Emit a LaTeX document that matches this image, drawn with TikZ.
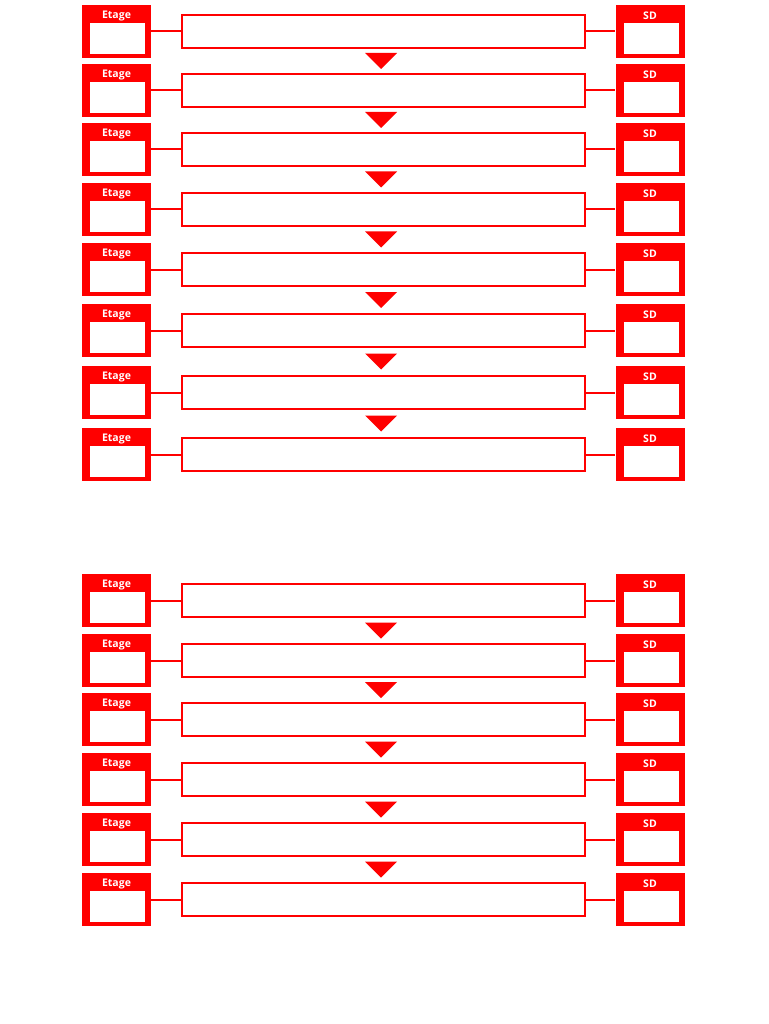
\documentclass[tikz,border=0pt]{standalone}
\usepackage{fontspec}
\newfontfamily\labfont{Open Sans}
\usetikzlibrary{calc}
\definecolor{boxred}{RGB}{255,0,0}
\begin{document}
\begin{tikzpicture}[x=1pt,y=-1pt,
 outerbox/.style={rectangle, fill=boxred, minimum width=69pt, minimum height=53pt, inner sep=0pt},
 innerbox/.style={rectangle, fill=white, minimum width=55pt, minimum height=31pt, inner sep=0pt},
 boxlabel/.style={text=white, font=\labfont\bfseries\fontsize{10.5}{10.5}\selectfont, inner sep=0pt},
 stagebox/.style={rectangle, draw=boxred, line width=2.2pt, fill=white, minimum width=403pt, minimum height=33pt, inner sep=0pt},
 link/.style={draw=boxred, line width=2pt},
 arrowtri/.style={fill=boxred}]
\useasboundingbox (0,0) rectangle (768,1024);
\foreach \y [count=\i] in {31.5,90.5,149.5,209.5,269.5,330.5,392.5,454.5,600.5,660.5,719.5,779.5,839.5,899.5}{
  \node[outerbox] (L\i) at (116.5,\y) {};
  \node[innerbox] (Li\i) at (117.5,\y+7) {};
  \node[boxlabel] (Lt\i) at (116.5,\y-15.5) {Etage};
  \node[outerbox] (R\i) at (650,\y) {};
  \node[innerbox] (Ri\i) at (651.5,\y+7) {};
  \node[boxlabel] (Rt\i) at (650,\y-16) {SD};
  \node[stagebox] (M\i) at (383.5,\y) {};
  \draw[link] (L\i.east) -- (M\i.west);
  \draw[link] (M\i.east) -- (R\i.west);
}
\foreach \a/\b in {1/2,2/3,3/4,4/5,5/6,6/7,7/8,9/10,10/11,11/12,12/13,13/14}{
  \coordinate (T\a) at ($(M\a)!0.5!(M\b)$);
  \fill[arrowtri] ([xshift=-18.5pt,yshift=8pt]T\a) -- ([xshift=13.5pt,yshift=8pt]T\a) -- ([xshift=-2.5pt,yshift=-8pt]T\a) -- cycle;
}
\end{tikzpicture}
\end{document}
